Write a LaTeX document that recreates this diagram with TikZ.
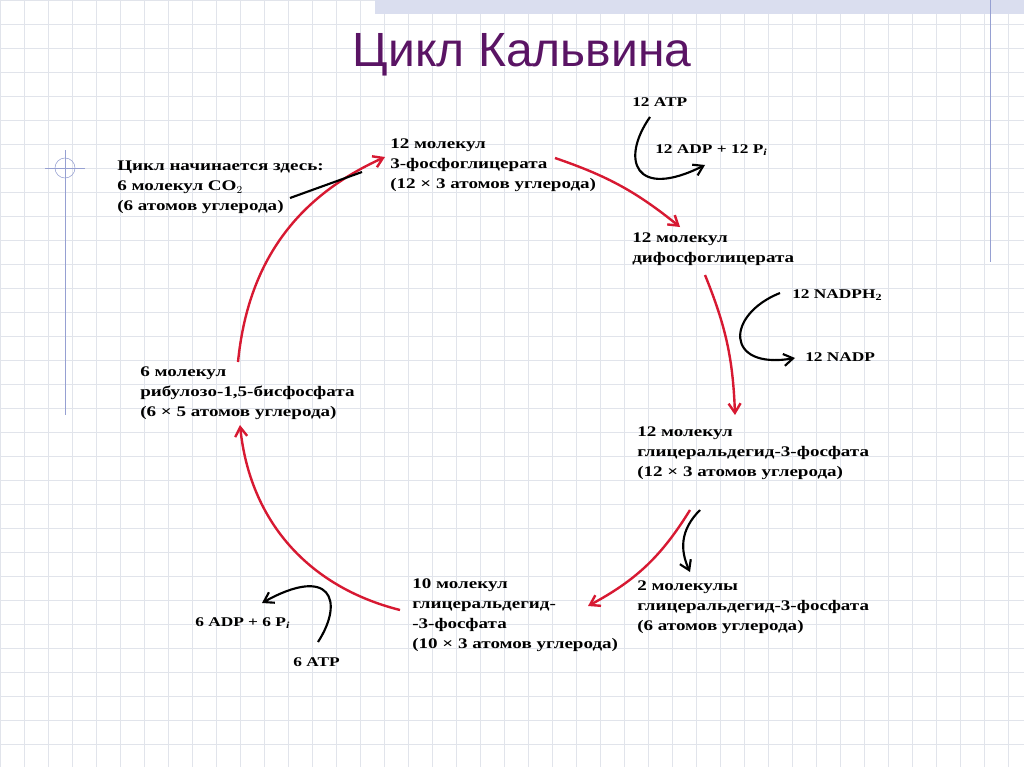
\documentclass[tikz,border=0pt]{standalone}
\usepackage{fontspec}
\setmainfont{Liberation Serif}
\newfontfamily\widefont[FakeStretch=1.3]{Liberation Serif}
\newfontfamily\titlefont{Liberation Sans}
\usetikzlibrary{arrows.meta}
\definecolor{titlepurple}{RGB}{90,20,100}
\definecolor{cyclered}{RGB}{215,25,50}
\definecolor{gridgray}{RGB}{225,228,235}
\definecolor{rulerblue}{RGB}{150,160,210}
\begin{document}
\begin{tikzpicture}[x=0.75pt,y=-0.75pt,
  lbl/.style={anchor=north west,align=left,font=\widefont\bfseries\fontsize{11}{15}\selectfont,inner sep=0pt},
  small/.style={anchor=west,font=\widefont\bfseries\fontsize{10}{11}\selectfont,inner sep=0pt},
  redarc/.style={cyclered,line width=1.8pt,-{Straight Barb[length=7pt,width=9pt]}},
  blackarc/.style={black,line width=1.6pt,-{Straight Barb[length=7pt,width=9pt]}}]
\useasboundingbox (0,0) rectangle (1024,767);
\fill[white] (0,0) rectangle (1024,767);

%%%% grid
\foreach \x in {0,24,...,1024}{
\draw[gridgray,line width=0.4pt] (\x,0) -- (\x,767);
}
\foreach \y in {0,24,...,767}{
\draw[gridgray,line width=0.4pt] (0,\y) -- (1024,\y);
}
\fill[rulerblue!35] (375,0) rectangle (1024,14);
\draw[rulerblue] (65,150) -- (65,415);
\draw[rulerblue] (990,0) -- (990,262);
\draw[rulerblue] (45,168) -- (85,168);
\draw[rulerblue] (65,168) circle (10);

%%%% title
\node(title) at(522,55) {\titlefont\fontsize{36}{40}\selectfont\color{titlepurple}Цикл Кальвина};

%%%% molecules
\node[lbl](pga) at(390,139) {12 молекул\\3-фосфоглицерата\\(12 × 3 атомов углерода)};
\node[lbl](start) at(117,161) {Цикл начинается здесь:\\6 молекул CO$_2$\\(6 атомов углерода)};
\node[lbl](dpga) at(632,233) {12 молекул\\дифосфоглицерата};
\node[lbl](gap) at(637,427) {12 молекул\\глицеральдегид-3-фосфата\\(12 × 3 атомов углерода)};
\node[lbl](out) at(637,581) {2 молекулы\\глицеральдегид-3-фосфата\\(6 атомов углерода)};
\node[lbl](ten) at(412,578) {10 молекул\\глицеральдегид-\\-3-фосфата\\(10 × 3 атомов углерода)};
\node[lbl](rubp) at(140,367) {6 молекул\\рибулозо-1,5-бисфосфата\\(6 × 5 атомов углерода)};

%%%% cofactors
\node[small](atpA) at(632,102) {12 ATP};
\node[small](adpA) at(655,150) {12 ADP + 12 P\raisebox{-2pt}{\scriptsize\itshape i}};
\node[small](nadph) at(792,295) {12 NADPH\raisebox{-2pt}{\scriptsize 2}};
\node[small](nadp) at(805,357) {12 NADP};
\node[small](adpB) at(195,623) {6 ADP + 6 P\raisebox{-2pt}{\scriptsize\itshape i}};
\node[small](atpB) at(293,662) {6 ATP};

\coordinate(a1) at(555,158); \coordinate(a2) at(680,227);
\coordinate(b1) at(705,275); \coordinate(b2) at(735,415);
\coordinate(c1) at(690,510); \coordinate(c2) at(588,606);
\coordinate(d1) at(400,610); \coordinate(d2) at(240,425);
\coordinate(e1) at(238,362); \coordinate(e2) at(385,157);

%%%% red cycle
\draw[redarc] (a1) to[bend left=10] (a2);
\draw[redarc] (b1) to[bend left=10] (b2);
\draw[redarc] (c1) to[bend left=15] (c2);
\draw[redarc] (d1) to[bend left=35] (d2);
\draw[redarc] (e1) to[bend left=30] (e2);

%%%% black side arrows
\draw[black,line width=1.6pt] (290,198) -- (362,172);
\draw[blackarc] (650,117) .. controls (620,160) and (635,200) .. (705,165);
\draw[blackarc] (780,293) .. controls (725,315) and (725,370) .. (795,358);
\draw[blackarc] (700,510) .. controls (680,530) and (680,550) .. (690,572);
\draw[blackarc] (318,642) .. controls (345,600) and (330,565) .. (262,603);
\end{tikzpicture}
\end{document}
